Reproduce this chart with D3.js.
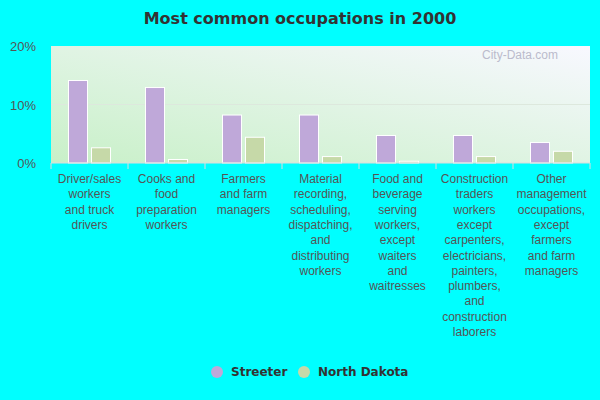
<!DOCTYPE html>
<html><head><meta charset="utf-8">
<script src="https://cdn.jsdelivr.net/npm/d3@7"></script>
<style>body{margin:0;background:#00ffff;}svg{display:block}</style>
</head><body><svg id="c" width="600" height="400"></svg>
<script>
const categories=[["Driver/sales","workers","and truck","drivers"],["Cooks and","food","preparation","workers"],["Farmers","and farm","managers"],["Material","recording,","scheduling,","dispatching,","and","distributing","workers"],["Food and","beverage","serving","workers,","except","waiters","and","waitresses"],["Construction","traders","workers","except","carpenters,","electricians,","painters,","plumbers,","and","construction","laborers"],["Other","management","occupations,","except","farmers","and farm","managers"]];
const streeter=[14.1,12.9,8.2,8.2,4.7,4.7,3.5];
const northDakota=[2.6,0.6,4.4,1.1,0.3,1.1,2.0];
const yTicks=[0,10,20];
const svg=d3.select("#c");
const L=51,R=590,T=46,B=163;
const defs=svg.append("defs");
const g=defs.append("linearGradient").attr("id","bg").attr("x1","0").attr("y1","1").attr("x2","1").attr("y2","0");
g.append("stop").attr("offset","0").attr("stop-color","#c8f0c8");
g.append("stop").attr("offset","1").attr("stop-color","#f8f8ff");
svg.append("rect").attr("x",L).attr("y",T).attr("width",R-L).attr("height",B-T).attr("fill","url(#bg)");
const x=d3.scaleBand().domain(d3.range(categories.length)).range([L,R]);
const y=d3.scaleLinear().domain([0,20]).range([B,T]);
svg.append("text").attr("x",300).attr("y",24).attr("text-anchor","middle").attr("font-family","DejaVu Sans, sans-serif").attr("font-weight","bold").attr("font-size",16).attr("fill","#333").text("Most common occupations in 2000");
svg.append("line").attr("x1",L).attr("x2",R).attr("y1",y(10)).attr("y2",y(10)).attr("stroke","#dde8dd");
yTicks.forEach(t=>svg.append("text").attr("x",36).attr("y",y(t)+5).attr("text-anchor","end").attr("font-family","Liberation Sans, Arial, sans-serif").attr("font-size",13).attr("fill","#555").text(t+"%"));
const bw=19;
categories.forEach((c,i)=>{
  const cx=x(i)+x.bandwidth()/2;
  svg.append("rect").attr("x",cx-bw-2).attr("y",y(streeter[i])).attr("width",bw).attr("height",B-y(streeter[i])).attr("fill","#bfa8d9").attr("stroke","#fff");
  svg.append("rect").attr("x",cx+2).attr("y",y(northDakota[i])).attr("width",bw).attr("height",B-y(northDakota[i])).attr("fill","#c6d9a8").attr("stroke","#fff");
  const t=svg.append("text").attr("text-anchor","middle").attr("font-family","Liberation Sans, Arial, sans-serif").attr("font-size",12).attr("fill","#555");
  c.forEach((s,k)=>t.append("tspan").attr("x",cx).attr("y",183+k*15.3).text(s));
});
d3.range(categories.length+1).forEach(i=>{const xx=i<categories.length?x(i):R;svg.append("line").attr("x1",xx).attr("x2",xx).attr("y1",B).attr("y2",B+6).attr("stroke","#ddd");});
svg.append("line").attr("x1",L).attr("x2",R).attr("y1",B).attr("y2",B).attr("stroke","#ddd");
svg.append("text").attr("x",520).attr("y",59).attr("text-anchor","middle").attr("font-family","Liberation Sans, Arial, sans-serif").attr("font-size",12).attr("fill","#bbc").text("City-Data.com");
[["Streeter","#bfa8d9",217],["North Dakota","#c6d9a8",304]].forEach(([n,c,lx])=>{
  svg.append("circle").attr("cx",lx).attr("cy",372).attr("r",6).attr("fill",c);
  svg.append("text").attr("x",lx+14).attr("y",376).attr("font-family","DejaVu Sans, sans-serif").attr("font-weight","bold").attr("font-size",12).attr("fill","#333").text(n);
});
</script></body></html>
